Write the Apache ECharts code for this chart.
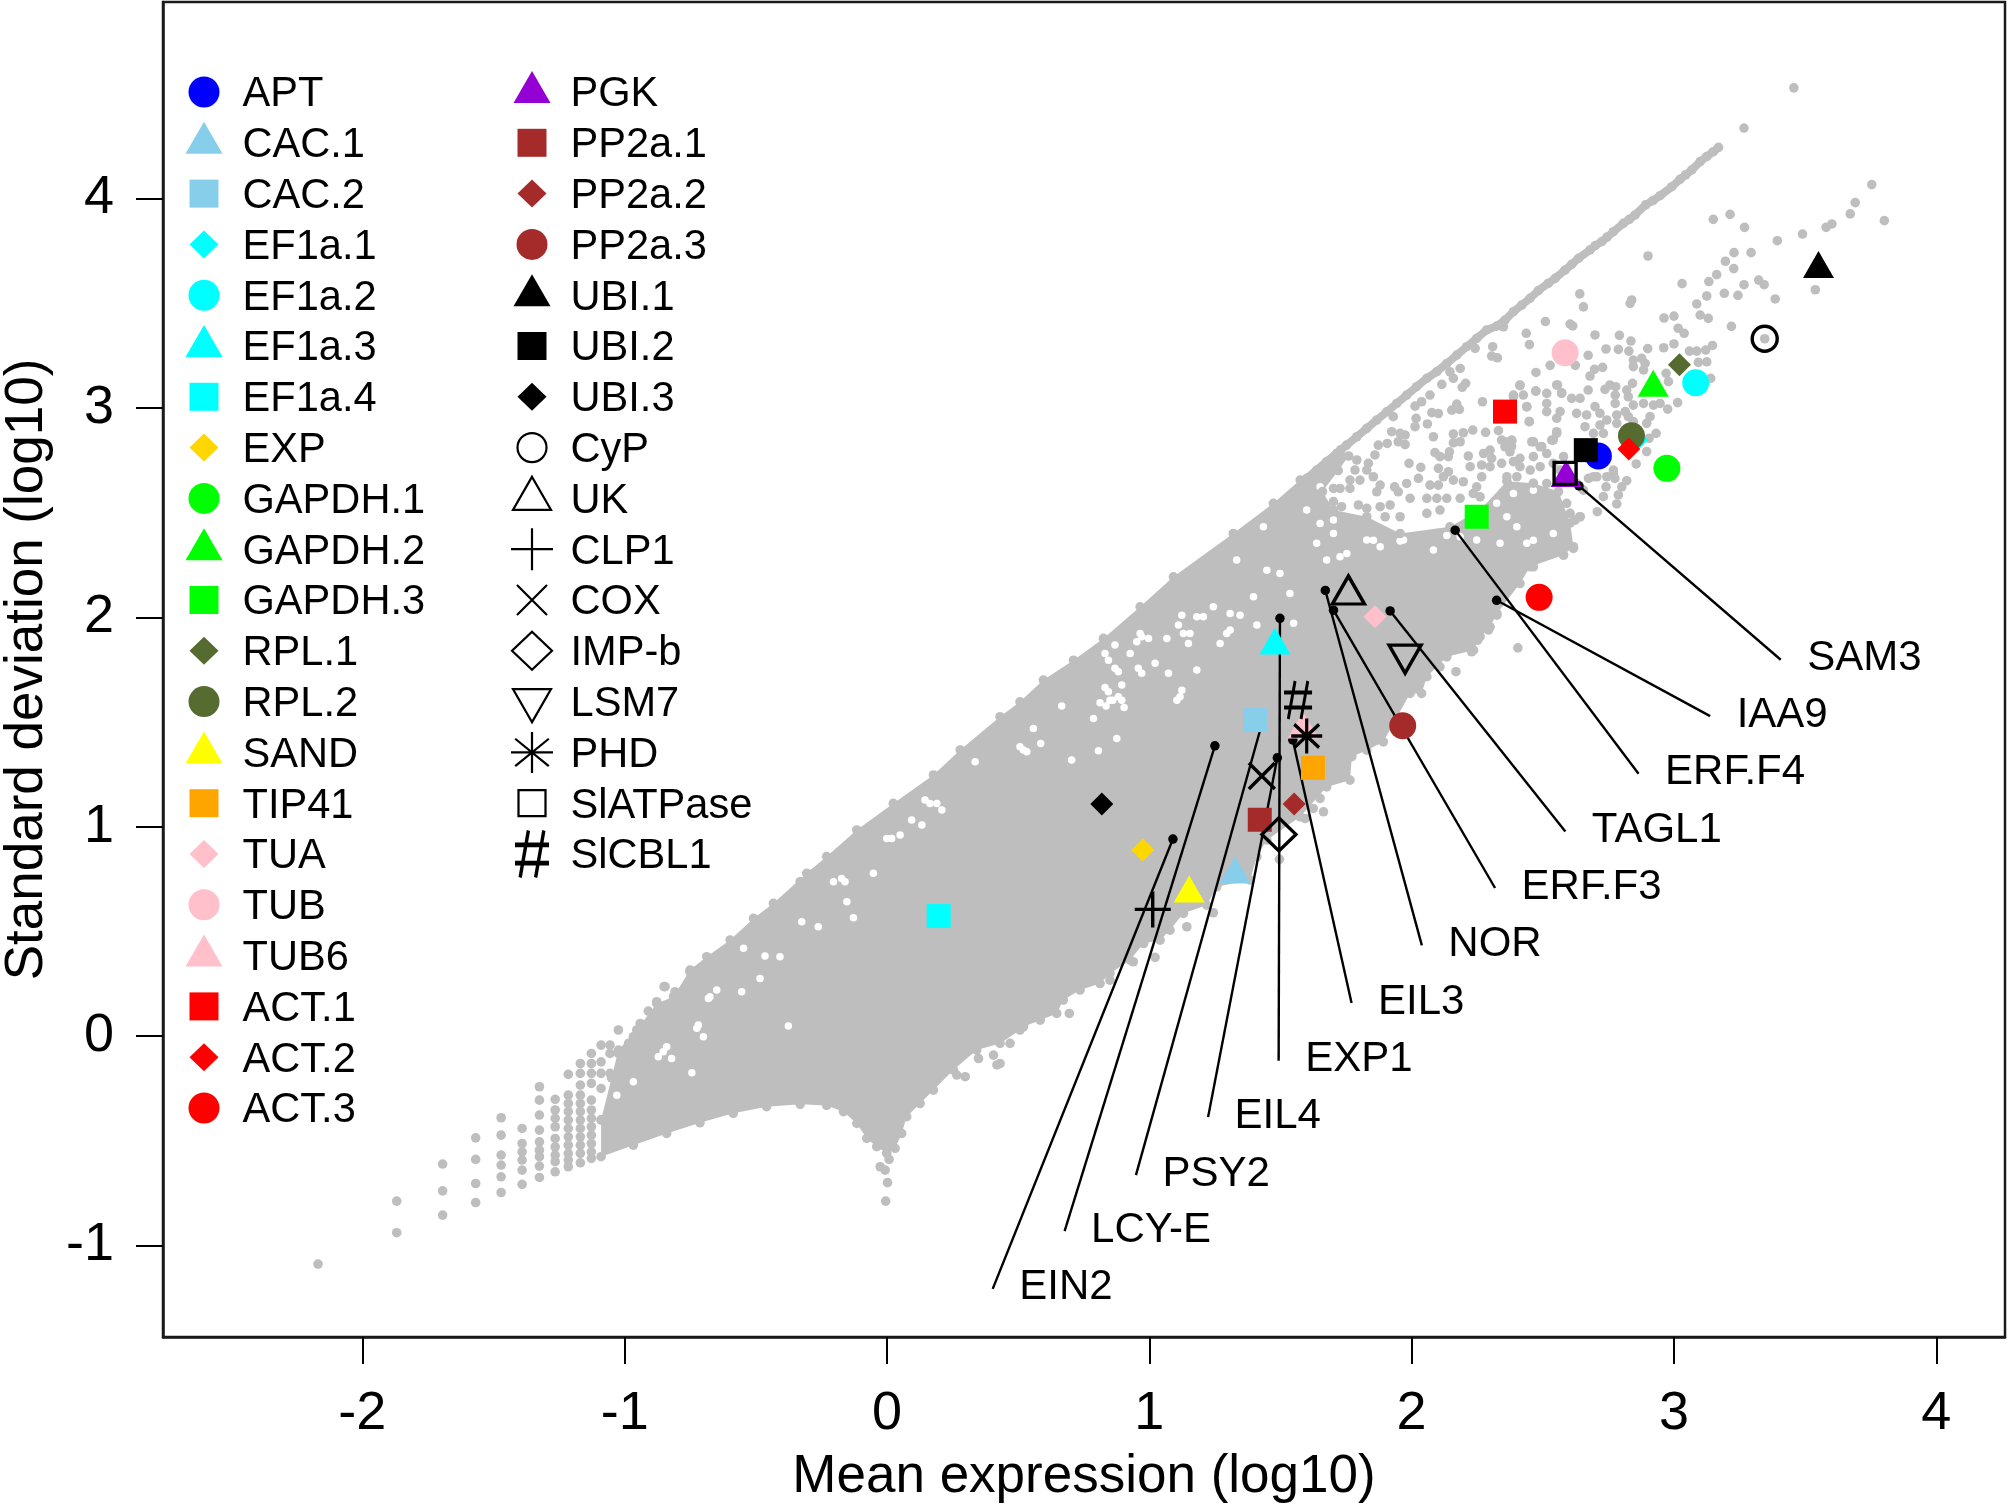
<!DOCTYPE html>
<html><head><meta charset="utf-8">
<style>html,body{margin:0;padding:0;background:#fff}#c{width:2008px;height:1505px}</style>
<script src="https://cdn.jsdelivr.net/npm/echarts@6/dist/echarts.min.js"></script>
</head><body><div id="c"></div>
<script>
// ---------- data ----------
const xTicks = [-2,-1,0,1,2,3,4];
const yTicks = [-1,0,1,2,3,4];
const geneNames = ['APT','CAC.1','CAC.2','EF1a.1','EF1a.2','EF1a.3','EF1a.4','EXP','GAPDH.1','GAPDH.2','GAPDH.3','RPL.1','RPL.2','SAND','TIP41','TUA','TUB','TUB6','ACT.1','ACT.2','ACT.3','PGK','PP2a.1','PP2a.2','PP2a.3','UBI.1','UBI.2','UBI.3','CyP','UK','CLP1','COX','IMP-b','LSM7','PHD','SlATPase','SlCBL1'];
const geneMean = [2.712,1.327,1.403,2.858,3.083,1.479,0.197,0.975,2.973,2.921,2.248,3.021,2.838,1.152,1.624,1.860,2.585,1.586,2.356,2.828,2.486,2.589,1.421,1.552,1.966,3.551,2.664,0.819,3.346,1.759,1.013,1.429,1.494,1.975,1.600,2.585,1.567];
const geneSD = [2.770,0.793,1.509,2.846,3.120,1.886,0.573,0.888,2.711,3.117,2.480,3.206,2.867,0.702,1.281,2.002,3.263,1.485,2.982,2.803,2.095,2.687,1.033,1.108,1.482,3.685,2.798,1.108,3.330,2.130,0.605,1.242,0.963,1.800,1.433,2.687,1.605];
const geneShape = ['circle','triangle','square','diamond','circle','triangle','square','diamond','circle','triangle','square','diamond','circle','triangle','square','diamond','circle','triangle','square','diamond','circle','triangle','square','diamond','circle','triangle','square','diamond','openCircle','openTriangle','plus','cross','openDiamond','openDown','star','openSquare','hash'];
const geneColor = ['#0000ff','#87ceeb','#87ceeb','#00ffff','#00ffff','#00ffff','#00ffff','#ffd700','#00ff00','#00ff00','#00ff00','#556b2f','#556b2f','#ffff00','#ffa500','#ffc0cb','#ffc0cb','#ffc0cb','#ff0000','#ff0000','#ff0000','#9400d3','#a52a2a','#a52a2a','#a52a2a','#000','#000','#000','#000','#000','#000','#000','#000','#000','#000','#000','#000'];

const leaderNames = ['EIN2','LCY-E','PSY2','EIL4','EXP1','EIL3','NOR','ERF.F3','TAGL1','ERF.F4','IAA9','SAM3'];
const leaderMean = [1.090,1.250,1.430,1.488,1.498,1.547,1.671,1.702,1.918,2.166,2.324,2.638];
const leaderSD = [0.941,1.386,1.495,1.329,1.995,1.414,2.128,2.034,2.030,2.416,2.081,2.627];
const leaderEndX = [0.403,0.677,0.949,1.224,1.493,1.771,2.039,2.318,2.586,2.865,3.138,3.407];
const leaderEndY = [-1.207,-0.931,-0.664,-0.387,-0.118,0.158,0.433,0.707,0.977,1.253,1.528,1.797];

// outline of the solid part of the grey cloud, clockwise from the lower left
const cloudEdge = [[-1.09,-.576],[-1.09,-.4],[-1.05,-.2],[-1.024,-.067],[-.954,.029],[-.878,.156],[-.814,.188],[-.751,.315],[-.687,.379],[-.598,.459],[-.509,.562],[-.433,.634],[-.306,.777],[-.23,.857],[-.115,.984],[.024,1.111],[.177,1.247],[.279,1.366],[.431,1.525],[.507,1.596],[.596,1.7],[.711,1.795],[.825,1.899],[.965,2.05],[1.092,2.193],[1.32,2.4],[1.473,2.544],[1.575,2.655],[1.73,2.8],[1.76,2.77],[1.72,2.7],[1.66,2.6],[1.702,2.512],[1.829,2.48],[1.956,2.4],[2.146,2.432],[2.261,2.512],[2.363,2.65],[2.464,2.64],[2.56,2.6],[2.604,2.45],[2.617,2.337],[2.579,2.297],[2.452,2.241],[2.413,2.161],[2.325,2.018],[2.299,1.954],[2.261,1.907],[2.236,1.843],[2.134,1.811],[2.058,1.716],[2.038,1.636],[1.994,1.636],[1.892,1.405],[1.829,1.365],[1.772,1.334],[1.765,1.222],[1.676,1.19],[1.575,1.047],[1.448,.936],[1.41,.856],[1.384,.745],[1.257,.713],[1.219,.625],[1.13,.586],[1.079,.506],[1.041,.458],[.978,.442],[.927,.363],[.85,.299],[.812,.251],[.736,.22],[.672,.172],[.647,.108],[.584,.076],[.52,.044],[.507,.029],[.431,-.035],[.342,-.067],[.253,-.162],[.177,-.258],[.126,-.322],[.075,-.385],[.056,-.465],[.031,-.536],[-.001,-.56],[-.039,-.528],[-.077,-.489],[-.115,-.417],[-.166,-.361],[-.23,-.331],[-.331,-.326],[-.459,-.337],[-.586,-.369],[-.713,-.414],[-.84,-.465],[-.967,-.521]];

// white gaps seen inside the upper cloud
const cloudGaps = [[.971,1.907],[.869,1.867],[.844,1.795],[.927,1.827],[.958,1.756],[.85,1.604],[.882,1.62],[.666,1.576],[.558,1.469],[.52,1.366],[.586,1.397],[.787,1.517],[.806,1.362],[.876,1.421],[1.067,1.899],[1.13,1.923],[1.149,1.875],[1.206,2.002],[1.124,2.01],[1.27,1.875],[1.117,1.62],[.895,1.676],[.704,1.318],[1.022,1.78],[1.181,1.748],[1.073,1.732],[1.41,1.963],[1.308,1.939],[1.55,1.971],[.164,1.111],[.018,.944],[.133,1.008],[.094,1.032],[-.052,.777],[-.173,.753],[-.153,.642],[-.325,.546],[-.128,.565],[-.547,.419],[-.465,.382],[-.408,.379],[-.484,.275],[-.554,.212],[-.675,.188],[-.725,.037],[-.853,-.075],[-.967,-.218],[-1.03,-.282],[-.376,.048],[-.744,-.175],[-.262,.522],[.336,1.31],[1.435,2.432],[1.536,2.114],[1.397,2.098],[1.333,2.273],[1.448,2.225],[1.498,2.209],[1.6,2.512],[1.702,2.464],[1.676,2.273],[1.854,2.368],[1.753,2.305],[1.651,2.623],[1.956,2.364],[2.032,2.44],[1.93,2.475],[2.134,2.39],[2.464,2.368],
 [.812,1.592],[.835,1.576],[.861,1.604],[.844,1.644],[.831,1.665],[.895,1.604],[.904,1.569],[.831,1.827],[.869,1.756],[.882,1.74],[1.111,1.963],[1.155,1.923],[1.181,2.002],[1.244,2.05],[1.308,2.018],[1.346,2.01],[1.295,1.923],[.965,1.923],[.952,1.883],[.997,1.899],[.971,1.732],[.507,1.382],[.533,1.358],[1.105,1.604],[1.124,1.652],[.145,1.127],[.19,1.111],[.209,1.079],[-.001,.944],[.05,.96],[-.16,.737],[-.204,.737],[-.719,.053],[-.7,-.003],[-.84,-.051],[-.872,-.099],[-.821,-.107],[-.681,.18],[-.649,.22],
 [1.651,2.448],[1.702,2.4],[1.638,2.353],[1.727,2.289],[1.829,2.369],[1.88,2.337],[2.083,2.321],[2.388,2.591],[2.464,2.607],[2.363,2.48],[2.439,2.353],[2.54,2.4],[2.401,2.432],[2.324,2.544],[2.337,2.353],[2.185,2.384],[1.969,2.369],[2.248,2.369]];

// separate grey points: lower-left columns, the single-sample line, and the upper-right spray
const dotsLowerLeft = [[-2.169,-1.089],[-1.869,-.788],[-1.869,-.939],[-1.694,-.611],[-1.694,-.739],[-1.694,-.855],[-1.568,-.486],[-1.568,-.589],[-1.568,-.704],[-1.568,-.795],[-1.471,-.39],[-1.471,-.473],[-1.471,-.568],[-1.471,-.616],[-1.471,-.672],[-1.471,-.747],[-1.391,-.441],[-1.391,-.513],[-1.391,-.553],[-1.391,-.592],[-1.391,-.64],[-1.391,-.708],[-1.325,-.242],[-1.325,-.306],[-1.325,-.377],[-1.325,-.449],[-1.325,-.505],[-1.325,-.545],[-1.325,-.576],[-1.325,-.621],[-1.325,-.675],[-1.265,-.302],[-1.265,-.353],[-1.265,-.393],[-1.265,-.433],[-1.265,-.489],[-1.265,-.529],[-1.265,-.568],[-1.265,-.6],[-1.265,-.648],[-1.215,-.183],[-1.215,-.282],[-1.215,-.322],[-1.215,-.361],[-1.215,-.401],[-1.215,-.441],[-1.215,-.481],[-1.215,-.521],[-1.215,-.56],[-1.215,-.592],[-1.215,-.624],[-1.169,-.131],[-1.169,-.178],[-1.169,-.234],[-1.169,-.282],[-1.169,-.322],[-1.169,-.361],[-1.169,-.401],[-1.169,-.441],[-1.169,-.481],[-1.169,-.521],[-1.169,-.56],[-1.169,-.605],[-1.127,-.083],[-1.127,-.131],[-1.127,-.178],[-1.127,-.226],[-1.127,-.306],[-1.127,-.353],[-1.127,-.393],[-1.127,-.433],[-1.127,-.473],[-1.127,-.513],[-1.127,-.553],[-1.127,-.584],[-1.09,-.043],[-1.09,-.123],[-1.09,-.178],[-1.09,-.25],[-1.09,-.4],[-1.056,-.043],[-1.024,.029],[-.91,.119],[-.846,.236],[-.808,.212],[-.751,.307],[-.85,.236],[-.732,.31],[-1.056,-.083],[-1.024,-.083],[-1.056,-.178],[-.985,-.035],[-.967,-.003],[-.941,.06],[-.91,.06],[-.878,.164],[-.827,.084],[-.789,.1],[-.763,.204]];
const dotsStem = [[-.026,-.624],[-.007,-.64],[.002,-.7],[-.005,-.788],[.008,-.589]];
const dotsRightEdge = [[.266,-.186],[.298,-.194],[.419,-.138],[.406,-.091],[.349,-.107],[.431,-.131],[.469,-.035],[.695,.108],[1.143,.522],[1.244,.589],[1.022,.376],[1.496,.844],[.939,.355],[.85,.267],[1.664,1.071],[1.651,1.135],[1.594,1.039],[1.625,1.087],[1.867,1.413],[2.169,1.74],[2.229,1.835],[2.108,1.763],[2.405,1.854],[2.293,1.939],[2.325,2.01],[2.252,1.891],[2.617,2.329],[2.464,2.241],[-.497,.554],[-.281,.777],[-.331,.737]];
const dotsLine = [[3.17,4.244],[3.15,4.223],[3.125,4.2],[3.1,4.176],[3.068,4.136],[3.045,4.113],[3.023,4.091],[2.992,4.056],[2.947,4.013],[2.92,3.99],[2.892,3.969],[2.852,3.921],[2.83,3.9],[2.807,3.881],[2.769,3.841],[2.745,3.815],[2.725,3.794],[2.7,3.775],[2.68,3.754],[2.636,3.714],[2.61,3.685],[2.585,3.658],[2.547,3.618],[2.521,3.595],[2.483,3.56],[2.451,3.523],[2.42,3.491],[2.388,3.459],[2.356,3.419],[2.324,3.39],[2.286,3.372],[2.248,3.332],[2.21,3.292],[2.172,3.252],[2.134,3.212],[2.096,3.173],[2.058,3.141],[2.019,3.101],[1.981,3.061],[1.943,3.021],[1.905,2.981],[1.867,2.942],[1.829,2.902],[1.791,2.862],[1.752,2.822],[1.714,2.783],[1.676,2.743],[1.638,2.703],[1.6,2.663]];
const dotsSpray = [[3.457,4.528],[3.267,4.336],[3.754,4.066],[3.691,3.98],[3.672,3.926],[3.602,3.878],[3.58,3.862],[3.802,3.894],[3.49,3.83],[3.394,3.798],[3.15,3.9],[3.214,3.924],[3.269,3.862],[3.229,3.741],[3.294,3.741],[3.196,3.7],[3.228,3.665],[3.163,3.636],[3.133,3.603],[2.901,3.725],[3.031,3.593],[3.267,3.588],[3.323,3.61],[3.344,3.588],[3.244,3.537],[3.192,3.547],[3.125,3.534],[3.386,3.52],[3.539,3.564],[3.087,3.496],[3.1,3.443],[3.131,3.427],[3.219,3.389],[3.346,3.33],[2.962,3.429],[3,3.438],[3.016,3.38],[3.039,3.356],[2.839,3.515],[2.833,3.499],[2.641,3.544],[2.655,3.482],[2.51,3.412],[2.604,3.4],[2.614,3.391],[2.437,3.356],[2.449,3.302],[2.699,3.348],[2.792,3.346],[2.836,3.319],[2.741,3.281],[2.788,3.279],[2.828,3.271],[2.9,3.283],[2.961,3.287],[3,3.305],[3.059,3.271],[3.087,3.271],[3.121,3.276],[3.147,3.298],[3.125,3.22],[3.093,3.217],[3.14,3.141],[2.673,3.251],[2.624,3.203],[2.528,3.203],[2.474,3.169],[2.728,3.193],[2.697,3.184],[2.68,3.152],[2.845,3.228],[2.845,3.197],[2.877,3.236],[2.89,3.212],[2.884,3.181],[2.97,3.165],[2.979,3.125],[2.842,3.117],[2.556,3.109],[2.413,3.106],[2.473,3.08],[2.515,3.069],[2.572,3.069],[2.673,3.085],[2.737,3.088],[2.756,3.109],[2.778,3.101],[2.82,3.085],[2.826,3.053],[2.388,3.053],[2.439,3.006],[2.515,3.021],[2.515,2.982],[2.449,2.934],[3.014,3.025],[2.976,2.994],[2.947,3.021],[2.61,3.045],[2.642,3.045],[2.776,3.061],[2.776,3.021],[2.699,3.006],[2.566,2.982],[2.553,2.95],[2.629,2.974],[2.667,2.966],[2.718,2.974],[2.782,2.966],[2.814,2.982],[2.845,3.013],[2.884,3.021],[2.922,3.013],[2.909,2.958],[2.744,2.942],[2.782,2.926],[2.826,2.958],[2.896,2.926],[2.845,2.934],[2.932,2.878],[2.896,2.791],[2.905,2.854],[2.856,2.732],[2.82,2.652],[2.801,2.623],[2.788,2.584],[2.782,2.541],[2.708,2.504],[2.741,2.623],[2.731,2.576],[2.642,2.48],[2.623,2.464],[2.769,2.703],[2.775,2.663],[2.674,2.663],[2.706,2.671],[2.693,2.878],[2.731,2.878],[2.661,2.91],[2.718,2.918],[2.553,2.886],[2.54,2.846],[2.464,2.838],[2.496,2.815],[2.381,2.846],[2.356,2.838],[2.381,2.815]];
const dotsSprayMid = [[2.35,3.387],[2.309,3.292],[2.305,3.247],[2.327,3.239],[2.242,3.284],[2.185,3.188],[2.146,3.172],[2.159,3.141],[2.115,3.112],[2.206,3.117],[2.193,3.098],[2.07,3.061],[2.038,3.029],[2.013,3.008],[2.172,3.018],[2.153,2.989],[2.182,2.993],[2.27,3.029],[2.102,2.973],[2.077,2.977],[2.017,2.95],[2.013,2.91],[2.06,2.923],[1.93,2.958],[1.924,2.886],[1.956,2.878],[1.975,2.87],[1.949,2.838],[1.975,2.825],[1.907,2.83],[1.873,2.822],[2.083,2.862],[2.159,2.875],[2.197,2.881],[2.233,2.894],[2.185,2.838],[2.159,2.833],[2.282,2.883],[2.331,2.891],[2.343,2.846],[2.382,2.843],[2.356,2.814],[2.375,2.79],[2.089,2.786],[2.108,2.767],[2.144,2.79],[2.14,2.767],[2.216,2.77],[2.223,2.719],[2.274,2.782],[2.299,2.798],[2.305,2.759],[2.267,2.727],[2.299,2.719],[2.343,2.735],[2.388,2.743],[2.413,2.759],[1.99,2.735],[2.035,2.716],[2.102,2.711],[2.14,2.695],[2.121,2.671],[2.159,2.655],[2.197,2.647],[2.267,2.671],[2.248,2.623],[2.235,2.591],[2.261,2.575],[2.07,2.631],[2.102,2.631],[2.026,2.663],[1.981,2.639],[1.935,2.623],[1.949,2.599],[1.88,2.631],[1.867,2.599],[1.88,2.528],[1.918,2.536],[1.854,2.671],[1.829,2.703],[1.784,2.703],[1.791,2.751],[1.86,2.775],[1.835,2.735],[1.765,2.655],[1.803,2.655],[1.765,2.615],[1.727,2.615],[1.702,2.615],[1.797,2.536],[1.733,2.528],[1.702,2.552],[1.663,2.544],[1.638,2.496],[1.606,2.464],[1.829,2.52],[1.899,2.48],[1.956,2.48],[1.994,2.568],[2.058,2.568],[2.096,2.568],[2.134,2.568],[2.185,2.568],[2.108,2.512],[2.058,2.496],[2.413,3.109],[2.388,3.061],[2.426,3.061],[2.474,3.08],[2.553,3.109],[2.572,3.072],[2.439,3.005],[2.448,2.934],[2.458,2.838],[2.49,2.814],[2.515,2.782],[2.534,2.846],[2.553,2.878],[2.363,2.671],[2.401,2.671],[2.452,2.703],[2.49,2.719],[2.464,2.767],[2.413,2.719],[2.515,2.639],[2.566,2.703],[2.579,2.767],[2.54,2.735],[2.591,2.655],[2.629,2.639],[2.655,2.607],[2.693,2.671],[2.744,2.671],[2.769,2.687],[2.591,2.544],[2.604,2.496],[2.642,2.48],[2.579,2.297]];

// ---------- styling ----------
const FONT = '"Liberation Sans", Arial, sans-serif';
const GREY = '#bebebe';
const PATHS = {
  plus: 'path://M0 10H20M10 0V20',
  cross: 'path://M0 0L20 20M20 0L0 20',
  star: 'path://M10 0V24M0 12H20M2 4L18 20M18 4L2 20',
  hash: 'path://M5 46L13 0M20 46L28 0M0 14H33M0 32H33'
};
const SHAPES = {
  circle:       {symbol:'circle',  plot:[27,27], key:[31,31], filled:true},
  triangle:     {symbol:'triangle',plot:[31,27], key:[37,32], filled:true, keyShift:-5},
  square:       {symbol:'rect',    plot:[24,24], key:[29,28], filled:true},
  diamond:      {symbol:'diamond', plot:[23,23], key:[29,28], filled:true},
  openCircle:   {symbol:'circle',  plot:[25,25], key:[29,29]},
  openTriangle: {symbol:'triangle',plot:[32,28], key:[38,33], keyShift:-5},
  openDown:     {symbol:'triangle',plot:[32,28], key:[38,33], rotate:180, keyShift:4},
  openSquare:   {symbol:'rect',    plot:[22,22], key:[27,26]},
  openDiamond:  {symbol:'diamond', plot:[34,33], key:[40,38]},
  plus:         {symbol:PATHS.plus, plot:[36,36], key:[42,42]},
  cross:        {symbol:PATHS.cross,plot:[26,26], key:[30,30]},
  star:         {symbol:PATHS.star, plot:[31,35], key:[42,41]},
  hash:         {symbol:PATHS.hash, plot:[28,38], key:[34,47], keyStroke:4}
};
function markStyle(i, lw){
  const s = SHAPES[geneShape[i]];
  return s.filled ? {color:geneColor[i], borderWidth:0, opacity:1}
                  : {color:'rgba(0,0,0,0)', borderColor:geneColor[i], borderWidth:lw, opacity:1};
}
const greyDots = (name,data) => ({type:'scatter',name,data,symbol:'circle',symbolSize:9.6,itemStyle:{color:GREY,opacity:1},z:3,silent:true,clip:false});
const HIDDEN = {color:'rgba(0,0,0,0)',opacity:1};

const series = [];
// solid cloud outline, through the library's own coordinate system
series.push({type:'custom',name:'cloud',coordinateSystem:'cartesian2d',clip:false,z:1,silent:true,data:[0],
  encode:{x:[],y:[]},
  renderItem:(p,api)=>({type:'polygon',shape:{points:cloudEdge.map(d=>api.coord(d))},style:{fill:GREY}})});
series.push({type:'scatter',name:'gaps',data:cloudGaps,symbol:'circle',symbolSize:7.5,itemStyle:{color:'#fff',opacity:1},z:2,silent:true});
series.push(greyDots('edge',cloudEdge),greyDots('lowerLeft',dotsLowerLeft),greyDots('stem',dotsStem),greyDots('rightEdge',dotsRightEdge),greyDots('line',dotsLine),greyDots('spray',dotsSpray),greyDots('sprayMid',dotsSprayMid));
// the upper edge reads as one near-continuous band of overlapping points
series.push({type:'line',name:'upperBand',data:dotsLine,showSymbol:false,symbol:'none',lineStyle:{color:GREY,width:8,cap:'round'},z:3,silent:true});
// leaders
leaderNames.forEach((n,i)=>series.push({type:'line',name:n,data:[[leaderMean[i],leaderSD[i]],[leaderEndX[i],leaderEndY[i]]],showSymbol:false,symbol:'none',lineStyle:{color:'#000',width:2.4},z:4,silent:true}));
series.push({type:'scatter',name:'leaderDots',data:leaderMean.map((x,i)=>[x,leaderSD[i]]),symbol:'circle',symbolSize:9.5,itemStyle:{color:'#000',opacity:1},z:4,silent:true});
series.push({type:'scatter',name:'leaderText',data:leaderEndX.map((x,i)=>({value:[x,leaderEndY[i]],name:leaderNames[i]})),symbol:'circle',symbolSize:1,itemStyle:HIDDEN,z:6,silent:true,clip:false,
  label:{show:true,position:'right',distance:26,offset:[0,-1],formatter:'{b}',fontFamily:FONT,fontSize:42,color:'#000'}});
// gene marks
geneNames.forEach((n,i)=>{
  const s=SHAPES[geneShape[i]];
  series.push({type:'scatter',name:n,data:[[geneMean[i],geneSD[i]]],symbol:s.symbol,symbolSize:s.plot,symbolRotate:s.rotate||0,itemStyle:markStyle(i,3.4),z:5,silent:true});
});
// key of the chart: column/row index on a hidden grid
const ROWS = 21;
const keyPos = i => [i<ROWS?0:1, i<ROWS?i:i-ROWS];
series.push({type:'scatter',name:'keyMarks',xAxisIndex:1,yAxisIndex:1,clip:false,z:5,silent:true,
  data:geneNames.map((n,i)=>{const s=SHAPES[geneShape[i]];return {value:keyPos(i),symbol:s.symbol,symbolSize:s.key,symbolRotate:s.rotate||0,symbolOffset:[0,s.keyShift||0],itemStyle:markStyle(i,s.keyStroke||2.2)};})});
series.push({type:'scatter',name:'keyText',xAxisIndex:1,yAxisIndex:1,clip:false,z:5,silent:true,symbolSize:1,itemStyle:HIDDEN,
  data:geneNames.map((n,i)=>({value:keyPos(i),name:n})),
  label:{show:true,position:'right',distance:38,offset:[0,3],formatter:'{b}',fontFamily:FONT,fontSize:41.6,color:'#000'}});

const chart = echarts.init(document.getElementById('c'),null,{renderer:'canvas',width:2008,height:1505});
chart.setOption({
  animation:false,
  backgroundColor:'#fff',
  textStyle:{fontFamily:FONT},
  grid:[
    {left:163,right:3,top:2,bottom:168,show:true,borderColor:'#1a1a1a',borderWidth:2.5,backgroundColor:'#fff',outerBoundsMode:'none'},
    {left:204,width:328,top:92,height:1016,show:false,outerBoundsMode:'none'}
  ],
  xAxis:[
    {type:'value',gridIndex:0,min:-2.76,max:4.262,name:'Mean expression (log10)',nameLocation:'middle',nameGap:114,
     nameTextStyle:{fontFamily:FONT,fontSize:53,color:'#000'},
     axisLine:{show:true,onZero:false,lineStyle:{color:'#1a1a1a',width:2.5}},
     axisTick:{show:true,length:27,customValues:xTicks,lineStyle:{color:'#000',width:2}},
     axisLabel:{show:true,customValues:xTicks,margin:50,fontFamily:FONT,fontSize:54,color:'#000'},
     splitLine:{show:false}},
    {type:'value',gridIndex:1,min:0,max:1,show:false}
  ],
  yAxis:[
    {type:'value',gridIndex:0,min:-1.437,max:4.938,name:'Standard deviation (log10)',nameLocation:'middle',nameGap:109,
     nameTextStyle:{fontFamily:FONT,fontSize:53,color:'#000'},
     axisLine:{show:true,onZero:false,lineStyle:{color:'#1a1a1a',width:2.5}},
     axisTick:{show:true,length:27,customValues:yTicks,lineStyle:{color:'#000',width:2}},
     axisLabel:{show:true,customValues:yTicks,margin:49,lineHeight:54,padding:[12,0,0,0],verticalAlign:'middle',fontFamily:FONT,fontSize:54,color:'#000'},
     splitLine:{show:false}},
    {type:'value',gridIndex:1,min:0,max:20,inverse:true,show:false}
  ],
  series
});
</script></body></html>
